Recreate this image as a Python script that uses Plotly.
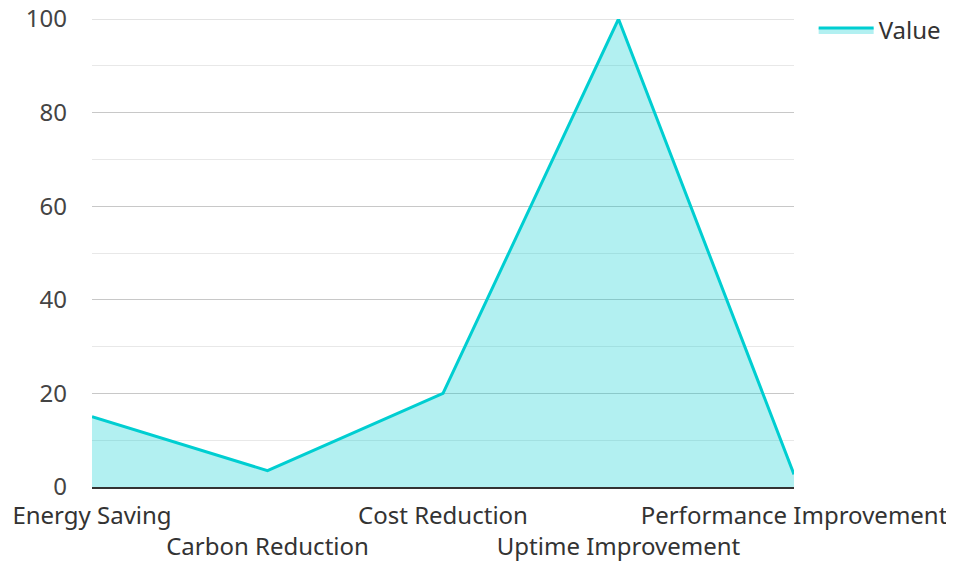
import plotly.graph_objects as go

categories = ["Energy Saving", "Carbon Reduction", "Cost Reduction", "Uptime Improvement", "Performance Improvement"]
values = [15, 3.5, 20, 100, 2.7]
series_name = "Value"
y_ticks = [0, 20, 40, 60, 80, 100]

tick_labels = [c if i % 2 == 0 else "<br>" + c for i, c in enumerate(categories)]

fig = go.Figure()
fig.add_trace(go.Scatter(
    x=list(range(len(categories))),
    y=values,
    name=series_name,
    mode="lines",
    line=dict(color="#00CED1", width=3),
    fill="tozeroy",
    fillcolor="rgba(0,206,209,0.3)",
    cliponaxis=False,
))

# top gridline (plotly omits the gridline at the range edge)
fig.add_shape(type="line", xref="paper", x0=0, x1=1, yref="y",
              y0=max(y_ticks), y1=max(y_ticks),
              line=dict(color="#c8c8c8", width=1), layer="below")

font_family = "Noto Sans, Open Sans, sans-serif"
fig.update_layout(
    width=946, height=554,
    margin=dict(l=84, r=160, t=11, b=75, autoexpand=False),
    paper_bgcolor="white", plot_bgcolor="white",
    font=dict(family=font_family, size=24, color="#333333"),
    showlegend=True,
    legend=dict(x=1.028, y=1.0235, xanchor="left", yanchor="top",
                itemwidth=55,
                font=dict(size=24, color="#333333"), bgcolor="rgba(0,0,0,0)"),
    xaxis=dict(
        range=[0, len(categories) - 1],
        tickmode="array",
        tickvals=list(range(len(categories))),
        ticktext=tick_labels,
        tickangle=0, automargin=False,
        ticklabeloverflow="allow",
        showgrid=False, zeroline=False,
        showline=True, linecolor="#333333", linewidth=2,
        ticks="", tickfont=dict(size=24, color="#333333"),
        ticklabelstandoff=6,
    ),
    yaxis=dict(
        range=[0, 100],
        tickmode="array", tickvals=y_ticks,
        automargin=False,
        ticklabeloverflow="allow",
        showgrid=True, gridcolor="#c8c8c8", gridwidth=1,
        minor=dict(dtick=10, showgrid=True, gridcolor="#e8e8e8", gridwidth=1),
        zeroline=False, showline=False,
        ticks="", tickfont=dict(size=24, color="#444444"),
        ticklabelstandoff=24,
    ),
)

fig.write_html("out.html")
